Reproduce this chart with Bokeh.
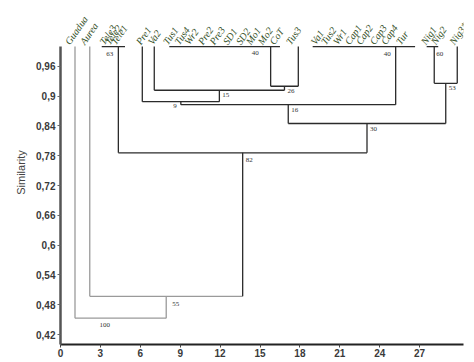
from bokeh.plotting import figure
from bokeh.models import FixedTicker, Range1d, ColumnDataSource
from bokeh.core.properties import value
from bokeh.embed import file_html
from bokeh.resources import INLINE

# ---- data ----
leaf_names = ["Guadua", "Aurea", "Tele3", "Tele2", "Tele1", "Pre1", "Va2",
              "Tus1", "Tus4", "Wr2", "Pre2", "Pre3", "SD1", "SD2", "Mo1", "Mo2", "CoT",
              "Tus3", "Va1", "Tus2", "Wr1", "Cap1", "Cap2", "Cap3", "Cap4", "Tur",
              "Nig1", "Nig2", "Nig3*"]
# x position of each leaf tip on the x axis
leaf_x = [1.09, 2.2, 3.1, 3.95, 4.85, 6.15, 7.05,
          8.18, 9.1, 10.0, 10.95, 11.9, 12.8, 13.7, 14.65, 15.6, 16.5,
          17.88, 18.96, 20.06, 21.16, 22.26, 23.36, 24.46, 25.56, 26.66,
          27.53, 28.4, 29.83]
# x position where each leaf name starts
label_x = [0.49, 1.62, 3.10, 3.50, 3.95, 5.83, 6.73,
           7.86, 8.74, 9.49, 10.49, 11.37, 12.37, 13.35, 14.10, 15.0, 15.88,
           17.11, 18.98, 19.74, 20.64, 21.54, 22.37, 23.42, 24.25, 25.38,
           27.26, 28.01, 29.41]

# groups of identical leaves (similarity 1.0)
group_names = ["G_tele", "G_left40", "G_right40", "G_nig"]
group_first = ["Tele3", "Tus1", "Va1", "Nig1"]
group_last = ["Tele1", "CoT", "Tur", "Nig2"]
group_stem_x = [4.35, 15.8, 25.2, 28.1]
group_boot = [63, 40, 40, 60]

# merges: (name, left child, right child, similarity, bootstrap)
node_names = ["N26", "N15", "N9", "N16", "N53", "N30", "N82", "N55", "N100"]
node_left = ["G_left40", "Va2", "Pre1", "N9", "G_nig", "N16", "G_tele", "Aurea", "Guadua"]
node_right = ["Tus3", "N26", "N15", "G_right40", "Nig3*", "N53", "N30", "N82", "N55"]
node_sim = [0.920, 0.912, 0.889, 0.883, 0.926, 0.845, 0.786, 0.497, 0.453]
node_boot = [26, 15, 9, 16, 53, 30, 82, 55, 100]

y_ticks = [0.42, 0.48, 0.54, 0.60, 0.66, 0.72, 0.78, 0.84, 0.90, 0.96]
y_tick_labels = ["0,42", "0,48", "0,54", "0,6", "0,66", "0,72", "0,78", "0,84", "0,9", "0,96"]
x_ticks = [0, 3, 6, 9, 12, 15, 18, 21, 24, 27]

# ---- styles ----
DARK = "#2b2b2b"
GREY = "#9a9a9a"
grey_items = {"Guadua", "Aurea", "N55", "N100"}

# ---- build segments ----
pos = {}
for n, x in zip(leaf_names, leaf_x):
    pos[n] = (x, 1.0)
x0, y0, x1, y1, col = [], [], [], [], []
boot_x, boot_y, boot_t, boot_kind = [], [], [], []
for g, f, l, sx, b in zip(group_names, group_first, group_last, group_stem_x, group_boot):
    fx = pos[f][0]
    lx = pos[l][0]
    x0.append(fx); y0.append(1.0); x1.append(lx); y1.append(1.0); col.append(DARK)
    pos[g] = (sx, 1.0)
    boot_x.append(sx); boot_y.append(1.0); boot_t.append(str(b)); boot_kind.append(g)

for n, lc, rc, s, b in zip(node_names, node_left, node_right, node_sim, node_boot):
    lx, lh = pos[lc]
    rx, rh = pos[rc]
    hc = GREY if n in grey_items else DARK
    x0.append(lx); y0.append(s); x1.append(rx); y1.append(s); col.append(hc)
    x0.append(lx); y0.append(lh); x1.append(lx); y1.append(s); col.append(GREY if lc in grey_items else DARK)
    x0.append(rx); y0.append(rh); x1.append(rx); y1.append(s); col.append(GREY if rc in grey_items else DARK)
    nx = (lx + rx) / 2.0
    pos[n] = (nx, s)
    boot_x.append(nx); boot_y.append(s); boot_t.append(str(b)); boot_kind.append(n)

# label offsets (screen px) and alignment per bootstrap label
offsets = {
    "G_tele": (-5, 5, "right"), "G_left40": (-12, 4, "right"), "G_right40": (-5, 5, "right"),
    "G_nig": (2, 5, "left"), "N9": (-4, 2, "right"), "N100": (-21, 5, "left"),
    "N55": (6, 6, "left"), "N82": (3, 5, "left"),
}
bx_off, by_off, b_align = [], [], []
for k in boot_kind:
    ox, oy, al = offsets.get(k, (3, 3, "left"))
    bx_off.append(ox); by_off.append(oy); b_align.append(al)

# ---- figure ----
p = figure(width=474, height=362, output_backend="svg", toolbar_location=None,
           x_range=Range1d(0, 30.3), y_range=Range1d(0.40, 1.0927),
           min_border_left=60, min_border_right=11, min_border_top=0, min_border_bottom=18)
p.outline_line_color = None
p.xgrid.visible = False
p.ygrid.visible = False
p.background_fill_color = "white"
p.border_fill_color = "white"

p.segment(x0=x0, y0=y0, x1=x1, y1=y1, line_color=col, line_width=1.3)

src_b = ColumnDataSource(dict(x=boot_x, y=boot_y, t=boot_t, xo=bx_off, yo=by_off, al=b_align))
p.text(x="x", y="y", text="t", x_offset="xo", y_offset="yo", text_align="al", source=src_b,
       text_baseline="top", text_font=value("Liberation Serif"), text_font_size="7px",
       text_color="#333333")

src_l = ColumnDataSource(dict(x=label_x, y=[1.0] * len(label_x), t=leaf_names))
p.text(x="x", y="y", text="t", source=src_l, angle=55, angle_units="deg",
       x_offset=0, y_offset=-3, text_align="left", text_baseline="alphabetic",
       text_font=value("Liberation Serif"), text_font_style="italic",
       text_font_size="10px", text_color="#34501f")

# axes
p.yaxis.ticker = FixedTicker(ticks=y_ticks)
p.yaxis.major_label_overrides = {t: s for t, s in zip(y_ticks, y_tick_labels)}
p.yaxis.bounds = (0.40, 1.0)
p.yaxis.axis_line_color = "#555555"
p.yaxis.axis_line_width = 2.5
p.yaxis.major_tick_line_color = "#666666"
p.yaxis.major_tick_out = 3
p.yaxis.major_tick_in = 0
p.yaxis.minor_tick_line_color = None
p.yaxis.major_label_standoff = 2
p.yaxis.major_label_text_font = "Liberation Sans"
p.yaxis.major_label_text_font_style = "bold"
p.yaxis.major_label_text_font_size = "10px"
p.yaxis.major_label_text_color = "#3a3a3a"
p.yaxis.axis_label = "Similarity"
p.yaxis.axis_label_text_font = "Liberation Sans"
p.yaxis.axis_label_text_font_style = "normal"
p.yaxis.axis_label_text_font_size = "11px"
p.yaxis.axis_label_text_color = "#444444"
p.yaxis.axis_label_standoff = 6

p.xaxis.ticker = FixedTicker(ticks=x_ticks)
p.xaxis.axis_line_color = "#222222"
p.xaxis.axis_line_width = 2
p.xaxis.major_tick_line_color = "#444444"
p.xaxis.major_tick_out = 3
p.xaxis.major_tick_in = 0
p.xaxis.minor_tick_line_color = None
p.xaxis.major_label_standoff = 1
p.xaxis.major_label_text_font = "Liberation Sans"
p.xaxis.major_label_text_font_style = "bold"
p.xaxis.major_label_text_font_size = "10px"
p.xaxis.major_label_text_color = "#3a3a3a"

open("out.html", "w").write(file_html(p, INLINE))
